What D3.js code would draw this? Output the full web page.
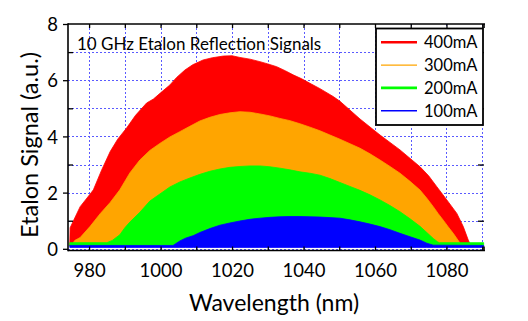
<!DOCTYPE html>
<html>
<head>
<meta charset="utf-8">
<script src="https://cdn.jsdelivr.net/npm/d3@7"></script>
<style>
  html, body { margin: 0; padding: 0; background: #fff; }
  svg { display: block; font-family: Lato, "Open Sans", sans-serif; }
</style>
</head>
<body>
<svg id="chart" width="528" height="321"></svg>
<script>
// Upper envelope of each reflection signal: [wavelength nm, signal a.u.]
const signal400 = [
  [974.6, 0.2], [974.7, 0.75], [977.5, 1.5], [980.3, 1.95], [981.2, 2.1], [983.5, 2.8],
  [985.9, 3.46], [988, 3.9], [990.5, 4.3], [993, 4.75], [996.1, 5.19], [998, 5.33],
  [1000, 5.55], [1002.6, 5.83], [1004.5, 6.1], [1006.8, 6.36], [1009, 6.55], [1011.9, 6.72],
  [1014.5, 6.8], [1017.6, 6.86], [1020, 6.87], [1022.2, 6.81], [1025, 6.75], [1027.8, 6.66],
  [1030, 6.58], [1032.5, 6.48], [1035, 6.33], [1037.1, 6.19], [1039.5, 6.05], [1041.8, 5.89],
  [1044.6, 5.7], [1048.3, 5.42], [1050.2, 5.25], [1055.8, 4.62], [1061.4, 4.05], [1067, 3.52],
  [1072.6, 2.92], [1075, 2.6], [1077.3, 2.21], [1080.1, 1.74], [1082.9, 1.26], [1084.7, 0.79],
  [1086.1, 0.31], [1086.5, 0.2]
];
const signal300 = [
  [975.5, 0.2], [976, 0.3], [977.5, 0.4], [980.3, 0.8], [983.1, 1.25], [985.9, 1.65],
  [988.6, 2.1], [991.4, 2.7], [994.2, 3.16], [997, 3.5], [999.8, 3.75], [1002.6, 3.98],
  [1005.4, 4.17], [1008.2, 4.36], [1011, 4.55], [1013.8, 4.68], [1016.6, 4.78], [1019.4, 4.84],
  [1022.2, 4.88], [1025, 4.86], [1027.8, 4.8], [1030.6, 4.73], [1033.4, 4.64], [1036.2, 4.56],
  [1039, 4.45], [1041.8, 4.33], [1044.6, 4.2], [1047.4, 4.05], [1050.2, 3.9], [1053, 3.74],
  [1055.8, 3.58], [1058.6, 3.38], [1061.4, 3.16], [1064.2, 2.93], [1067, 2.69], [1069.8, 2.4],
  [1072.6, 2.09], [1074.5, 1.8], [1076.3, 1.5], [1077.7, 1.25], [1079.1, 1.02], [1080.5, 0.78],
  [1081.9, 0.55], [1083, 0.35], [1083.8, 0.2]
];
const signal200 = [
  [974.6, 0.22], [985, 0.22], [986.5, 0.3], [988.6, 0.5], [990, 0.75], [991.4, 0.95],
  [994.2, 1.3], [997, 1.7], [999.8, 1.95], [1002.6, 2.2], [1005.4, 2.38], [1008.2, 2.52],
  [1011, 2.65], [1013.8, 2.76], [1016.6, 2.84], [1019.4, 2.9], [1022.2, 2.93], [1025, 2.95],
  [1027.8, 2.95], [1030.6, 2.92], [1033.4, 2.87], [1036.2, 2.81], [1039, 2.74], [1041.8, 2.69],
  [1044.6, 2.62], [1047.4, 2.5], [1050.2, 2.36], [1053, 2.22], [1055.8, 2.08], [1058.6, 1.92],
  [1061.4, 1.74], [1064.2, 1.54], [1067, 1.32], [1069.8, 1.07], [1072.6, 0.8], [1074.5, 0.58],
  [1076.3, 0.37], [1077.5, 0.25], [1078, 0.22], [1090.4, 0.22]
];
const signal100 = [
  [974.6, 0.12], [1003.5, 0.12], [1005.4, 0.28], [1007, 0.38], [1009.2, 0.47], [1011, 0.58],
  [1013.8, 0.72], [1016.6, 0.84], [1019.4, 0.92], [1022.2, 0.99], [1025, 1.05], [1027.8, 1.09],
  [1030.6, 1.12], [1033.4, 1.14], [1036.2, 1.15], [1039, 1.15], [1041.8, 1.14], [1044.6, 1.13],
  [1047.4, 1.11], [1050.2, 1.09], [1053, 1.03], [1055.8, 0.96], [1058.6, 0.88], [1061.4, 0.79],
  [1064.2, 0.68], [1067, 0.55], [1069.8, 0.43], [1072.6, 0.31], [1074.5, 0.2], [1076.3, 0.13],
  [1090.4, 0.12]
];
const seriesLabels = ["400mA", "300mA", "200mA", "100mA"];
const seriesData = [signal400, signal300, signal200, signal100];
const wavelengthTicks = [980, 1000, 1020, 1040, 1060, 1080];
const wavelengthGrid = [980, 990, 1000, 1010, 1020, 1030, 1040, 1050, 1060, 1070, 1080, 1090];
const signalTicks = [0, 2, 4, 6, 8];
const signalGrid = [0, 1, 2, 3, 4, 5, 6, 7];
const signalMinor = [1, 3, 5, 7];
const titleText = "10 GHz Etalon Reflection Signals";
const xTitle = "Wavelength (nm)";
const yTitle = "Etalon Signal (a.u.)";

// styles
const fillColors = ["#ff0000", "#ffa500", "#00ff00", "#0000ff"];
const legendWidths = [2.6, 1.2, 2.6, 1.4];
const baseValue = [0.1, 0.1, 0.1, 0.05];

const svg = d3.select("#chart");
const plotLeft = 68, plotRight = 484, plotTop = 24, plotBottom = 250.5;

const x = d3.scaleLinear().domain([974.1, 1090.5]).range([plotLeft, plotRight]);
const y = d3.scaleLinear().domain([-0.06, 8]).range([plotBottom, plotTop]);

// dashed grid
const grid = svg.append("g").attr("stroke", "#5a5aff").attr("stroke-width", 1)
  .attr("stroke-dasharray", "2,2").attr("fill", "none");
grid.selectAll("line.v").data(wavelengthGrid).join("line").attr("class", "v")
  .attr("x1", d => Math.round(x(d)) + 0.5).attr("x2", d => Math.round(x(d)) + 0.5)
  .attr("y1", plotTop).attr("y2", plotBottom);
grid.selectAll("line.h").data(signalGrid).join("line").attr("class", "h")
  .attr("y1", d => Math.round(y(d)) + 0.5).attr("y2", d => Math.round(y(d)) + 0.5)
  .attr("x1", plotLeft).attr("x2", plotRight);

// signal areas, drawn from highest current to lowest
const plot = svg.append("g");
seriesData.forEach((data, i) => {
  const area = d3.area()
    .x(d => x(d[0]))
    .y0(y(baseValue[i]))
    .y1(d => y(d[1]));
  plot.append("path")
    .datum(data)
    .attr("d", area)
    .attr("fill", fillColors[i])
    .attr("stroke", fillColors[i])
    .attr("stroke-width", 0.8);
});

// axes
const axisColor = "#000";
const xAxis = d3.axisBottom(x).tickValues(wavelengthGrid)
  .tickSize(-4).tickFormat(d => wavelengthTicks.includes(d) ? d : "");
const gx = svg.append("g").attr("transform", `translate(0,${plotBottom})`).call(xAxis);
gx.select(".domain").remove();
gx.selectAll(".tick line").attr("stroke", axisColor).attr("stroke-width", 1.3);
gx.selectAll(".tick text").attr("y", 26).attr("dy", 0)
  .attr("font-size", 18.5).attr("font-family", "Lato").attr("fill", "#000");

const xTop = d3.axisTop(x).tickValues(wavelengthGrid).tickSize(-4).tickFormat("");
const gxt = svg.append("g").attr("transform", `translate(0,${plotTop})`).call(xTop);
gxt.select(".domain").remove();
gxt.selectAll(".tick line").attr("stroke", axisColor).attr("stroke-width", 1.3);

const yAxis = d3.axisLeft(y).tickValues(signalTicks).tickSize(5).tickPadding(5).tickFormat(d3.format("d"));
const gy = svg.append("g").attr("transform", `translate(${plotLeft},0)`).call(yAxis);
gy.select(".domain").remove();
gy.selectAll(".tick line").attr("stroke", axisColor).attr("stroke-width", 1.3);
gy.selectAll(".tick text").attr("font-size", 18.5).attr("font-family", "Lato")
  .attr("fill", "#000").attr("dy", "0.36em");

const yMinor = d3.axisLeft(y).tickValues(signalMinor).tickSize(-5).tickFormat("");
const gym = svg.append("g").attr("transform", `translate(${plotLeft},0)`).call(yMinor);
gym.select(".domain").remove();
gym.selectAll(".tick line").attr("stroke", axisColor).attr("stroke-width", 1.3);

const yRight = d3.axisRight(y).tickValues(signalMinor).tickSize(-6).tickFormat("");
const gyr = svg.append("g").attr("transform", `translate(${plotRight},0)`).call(yRight);
gyr.select(".domain").remove();
gyr.selectAll(".tick line").attr("stroke", axisColor).attr("stroke-width", 1.3);

// axis lines
svg.append("line").attr("x1", plotLeft).attr("x2", plotLeft).attr("y1", plotTop - 0.8).attr("y2", plotBottom + 0.8)
  .attr("stroke", axisColor).attr("stroke-width", 1.6);
svg.append("line").attr("x1", plotLeft).attr("x2", plotRight + 1).attr("y1", plotBottom).attr("y2", plotBottom)
  .attr("stroke", axisColor).attr("stroke-width", 1.6);
svg.append("line").attr("x1", plotLeft).attr("x2", plotRight + 1).attr("y1", plotTop).attr("y2", plotTop)
  .attr("stroke", axisColor).attr("stroke-width", 1.6);
svg.append("line").attr("x1", plotRight).attr("x2", plotRight).attr("y1", plotTop).attr("y2", plotTop + 4)
  .attr("stroke", axisColor).attr("stroke-width", 1.6);
svg.append("line").attr("x1", plotRight).attr("x2", plotRight).attr("y1", plotBottom - 4).attr("y2", plotBottom)
  .attr("stroke", axisColor).attr("stroke-width", 1.6);

// titles
svg.append("text").attr("x", 77).attr("y", 50).attr("font-size", 17)
  .attr("font-family", "Lato").attr("fill", "#000").text(titleText);
svg.append("text").attr("x", 274).attr("y", 311).attr("text-anchor", "middle")
  .attr("font-size", 23).attr("font-family", "Lato").attr("fill", "#000").text(xTitle);
svg.append("text").attr("transform", "translate(38,145) rotate(-90)")
  .attr("text-anchor", "middle").attr("font-size", 23.5).attr("font-family", "Lato")
  .attr("fill", "#000").text(yTitle);

// legend
const lg = svg.append("g");
lg.append("rect").attr("x", 376).attr("y", 28.5).attr("width", 107).attr("height", 96.5)
  .attr("fill", "#fff").attr("stroke", "#000").attr("stroke-width", 1.8);
const rowY = d3.scalePoint().domain(seriesLabels).range([42.3, 110.7]);
seriesLabels.forEach((s, i) => {
  lg.append("line").attr("x1", 381).attr("x2", 417)
    .attr("y1", rowY(s)).attr("y2", rowY(s))
    .attr("stroke", fillColors[i]).attr("stroke-width", legendWidths[i]);
  lg.append("text").attr("x", 424).attr("y", rowY(s) + 6)
    .attr("font-size", 16.5).attr("font-family", "Lato").attr("fill", "#000").text(s);
});
</script>
</body>
</html>
